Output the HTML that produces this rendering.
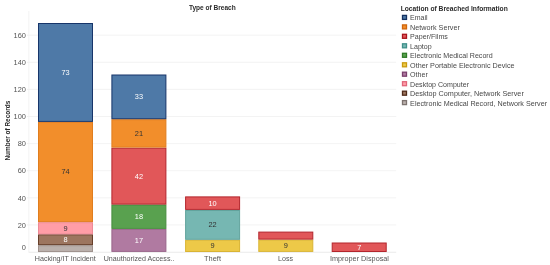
<!DOCTYPE html>
<html><head><meta charset="utf-8"><title>Type of Breach</title>
<style>
html,body{margin:0;padding:0;background:#fff;}
svg{display:block;font-family:"Liberation Sans",sans-serif;}
text{font-size:7.4px;}
.ax{fill:#555;}
.b{font-weight:bold;fill:#2a2a2a;}
</style></head><body>
<svg width="550" height="265" viewBox="0 0 550 265">
<rect width="550" height="265" fill="#fff"/>

<line x1="28.8" x2="396.2" y1="224.9" y2="224.9" stroke="#f0f0f0" stroke-width="0.8"/>
<line x1="27" x2="28.8" y1="224.9" y2="224.9" stroke="#ececec" stroke-width="0.8"/>
<line x1="28.8" x2="396.2" y1="197.8" y2="197.8" stroke="#f0f0f0" stroke-width="0.8"/>
<line x1="27" x2="28.8" y1="197.8" y2="197.8" stroke="#ececec" stroke-width="0.8"/>
<line x1="28.8" x2="396.2" y1="170.7" y2="170.7" stroke="#f0f0f0" stroke-width="0.8"/>
<line x1="27" x2="28.8" y1="170.7" y2="170.7" stroke="#ececec" stroke-width="0.8"/>
<line x1="28.8" x2="396.2" y1="143.6" y2="143.6" stroke="#f0f0f0" stroke-width="0.8"/>
<line x1="27" x2="28.8" y1="143.6" y2="143.6" stroke="#ececec" stroke-width="0.8"/>
<line x1="28.8" x2="396.2" y1="116.5" y2="116.5" stroke="#f0f0f0" stroke-width="0.8"/>
<line x1="27" x2="28.8" y1="116.5" y2="116.5" stroke="#ececec" stroke-width="0.8"/>
<line x1="28.8" x2="396.2" y1="89.4" y2="89.4" stroke="#f0f0f0" stroke-width="0.8"/>
<line x1="27" x2="28.8" y1="89.4" y2="89.4" stroke="#ececec" stroke-width="0.8"/>
<line x1="28.8" x2="396.2" y1="62.3" y2="62.3" stroke="#f0f0f0" stroke-width="0.8"/>
<line x1="27" x2="28.8" y1="62.3" y2="62.3" stroke="#ececec" stroke-width="0.8"/>
<line x1="28.8" x2="396.2" y1="35.2" y2="35.2" stroke="#f0f0f0" stroke-width="0.8"/>
<line x1="27" x2="28.8" y1="35.2" y2="35.2" stroke="#ececec" stroke-width="0.8"/>
<line x1="28.8" x2="28.8" y1="11" y2="252.45" stroke="#f0f0f0" stroke-width="0.8"/>
<line x1="28.8" x2="396.2" y1="252.25" y2="252.25" stroke="#e4e4e4" stroke-width="0.8"/>
<text class="ax" x="25.9" y="249.8" text-anchor="end">0</text>
<text class="ax" x="25.9" y="227.6" text-anchor="end">20</text>
<text class="ax" x="25.9" y="200.5" text-anchor="end">40</text>
<text class="ax" x="25.9" y="173.4" text-anchor="end">60</text>
<text class="ax" x="25.9" y="146.3" text-anchor="end">80</text>
<text class="ax" x="25.9" y="119.2" text-anchor="end">100</text>
<text class="ax" x="25.9" y="92.1" text-anchor="end">120</text>
<text class="ax" x="25.9" y="65.0" text-anchor="end">140</text>
<text class="ax" x="25.9" y="37.9" text-anchor="end">160</text>
<rect x="38.5" y="245.7" width="54" height="5.8" fill="#bab0ac" stroke="#a0938e" stroke-width="1"/>
<rect x="38.5" y="234.8" width="54" height="9.8" fill="#9c755f" stroke="#673f2a" stroke-width="1"/>
<text x="65.5" y="242.2" text-anchor="middle" fill="#fff">8</text>
<rect x="38.5" y="222.7" width="54" height="11.2" fill="#ff9da7" stroke="#ee8a96" stroke-width="1"/>
<text x="65.5" y="230.6" text-anchor="middle" fill="#333">9</text>
<rect x="38.5" y="122.4" width="54" height="99.2" fill="#f28e2b" stroke="#e07d1e" stroke-width="1"/>
<text x="65.5" y="174.4" text-anchor="middle" fill="#333">74</text>
<rect x="38.5" y="23.5" width="54" height="97.9" fill="#4e79a7" stroke="#17356a" stroke-width="1"/>
<text x="65.5" y="74.9" text-anchor="middle" fill="#fff">73</text>
<text class="ax" x="34.8" y="260.8" textLength="61.0" lengthAdjust="spacingAndGlyphs">Hacking/IT Incident</text>
<rect x="111.9" y="229.4" width="54" height="22.0" fill="#b07aa1" stroke="#98648a" stroke-width="1"/>
<text x="138.9" y="242.8" text-anchor="middle" fill="#fff">17</text>
<rect x="111.9" y="205.0" width="54" height="23.4" fill="#59a14f" stroke="#478d3e" stroke-width="1"/>
<text x="138.9" y="219.1" text-anchor="middle" fill="#fff">18</text>
<rect x="111.9" y="148.2" width="54" height="55.9" fill="#e15759" stroke="#b3262d" stroke-width="1"/>
<text x="138.9" y="178.5" text-anchor="middle" fill="#fff">42</text>
<rect x="111.9" y="119.7" width="54" height="27.4" fill="#f28e2b" stroke="#e07d1e" stroke-width="1"/>
<text x="138.9" y="135.8" text-anchor="middle" fill="#333">21</text>
<rect x="111.9" y="75.0" width="54" height="43.7" fill="#4e79a7" stroke="#17356a" stroke-width="1"/>
<text x="138.9" y="99.3" text-anchor="middle" fill="#fff">33</text>
<text class="ax" x="103.7" y="260.8" textLength="70.7" lengthAdjust="spacingAndGlyphs">Unauthorized Access..</text>
<rect x="185.6" y="240.3" width="54" height="11.2" fill="#edc948" stroke="#d9b434" stroke-width="1"/>
<text x="212.6" y="248.3" text-anchor="middle" fill="#333">9</text>
<rect x="185.6" y="210.5" width="54" height="28.8" fill="#76b7b2" stroke="#62a39d" stroke-width="1"/>
<text x="212.6" y="227.3" text-anchor="middle" fill="#333">22</text>
<rect x="185.6" y="196.9" width="54" height="12.5" fill="#e15759" stroke="#b3262d" stroke-width="1"/>
<text x="212.6" y="205.6" text-anchor="middle" fill="#fff">10</text>
<text class="ax" x="204.1" y="260.8" textLength="16.9" lengthAdjust="spacingAndGlyphs">Theft</text>
<rect x="258.8" y="240.1" width="54" height="11.3" fill="#edc948" stroke="#d9b434" stroke-width="1"/>
<text x="285.8" y="248.2" text-anchor="middle" fill="#333">9</text>
<rect x="258.8" y="232.1" width="54" height="7.0" fill="#e15759" stroke="#b3262d" stroke-width="1"/>
<text class="ax" x="278.0" y="260.8" textLength="15.0" lengthAdjust="spacingAndGlyphs">Loss</text>
<rect x="332.2" y="243.0" width="54" height="8.5" fill="#e15759" stroke="#b3262d" stroke-width="1"/>
<text x="359.2" y="249.6" text-anchor="middle" fill="#fff">7</text>
<text class="ax" x="330.0" y="260.8" textLength="59.0" lengthAdjust="spacingAndGlyphs">Improper Disposal</text>
<text class="b" x="188.9" y="9.6" textLength="46.8" lengthAdjust="spacingAndGlyphs">Type of Breach</text>
<text class="b" transform="translate(9.6,160.6) rotate(-90)" textLength="59.9" lengthAdjust="spacingAndGlyphs">Number of Records</text>
<text class="b" x="400.7" y="11.4" textLength="107.1" lengthAdjust="spacingAndGlyphs">Location of Breached Information</text>
<rect x="402.5" y="15.4" width="4" height="4" fill="#4e79a7" stroke="#14305f" stroke-width="1.3"/>
<text x="410.1" y="20.4" fill="#484848" textLength="17.5" lengthAdjust="spacingAndGlyphs">Email</text>
<rect x="402.5" y="24.9" width="4" height="4" fill="#f28e2b" stroke="#cf650c" stroke-width="1.3"/>
<text x="410.1" y="29.9" fill="#484848" textLength="49.8" lengthAdjust="spacingAndGlyphs">Network Server</text>
<rect x="402.5" y="34.3" width="4" height="4" fill="#e15759" stroke="#a8141c" stroke-width="1.3"/>
<text x="410.1" y="39.4" fill="#484848" textLength="37.8" lengthAdjust="spacingAndGlyphs">Paper/Films</text>
<rect x="402.5" y="43.8" width="4" height="4" fill="#76b7b2" stroke="#3f8f89" stroke-width="1.3"/>
<text x="410.1" y="48.9" fill="#484848" textLength="21.6" lengthAdjust="spacingAndGlyphs">Laptop</text>
<rect x="402.5" y="53.3" width="4" height="4" fill="#59a14f" stroke="#2f7a27" stroke-width="1.3"/>
<text x="410.1" y="58.3" fill="#484848" textLength="82.6" lengthAdjust="spacingAndGlyphs">Electronic Medical Record</text>
<rect x="402.5" y="62.8" width="4" height="4" fill="#edc948" stroke="#c99a10" stroke-width="1.3"/>
<text x="410.1" y="67.8" fill="#484848" textLength="104.4" lengthAdjust="spacingAndGlyphs">Other Portable Electronic Device</text>
<rect x="402.5" y="72.2" width="4" height="4" fill="#b07aa1" stroke="#7a3f6c" stroke-width="1.3"/>
<text x="410.1" y="77.3" fill="#484848" textLength="17.7" lengthAdjust="spacingAndGlyphs">Other</text>
<rect x="402.5" y="81.7" width="4" height="4" fill="#ff9da7" stroke="#e0667a" stroke-width="1.3"/>
<text x="410.1" y="86.7" fill="#484848" textLength="58.9" lengthAdjust="spacingAndGlyphs">Desktop Computer</text>
<rect x="402.5" y="91.2" width="4" height="4" fill="#9c755f" stroke="#4f2a18" stroke-width="1.3"/>
<text x="410.1" y="96.2" fill="#484848" textLength="113.7" lengthAdjust="spacingAndGlyphs">Desktop Computer, Network Server</text>
<rect x="402.5" y="100.6" width="4" height="4" fill="#bab0ac" stroke="#7d7370" stroke-width="1.3"/>
<text x="410.1" y="105.7" fill="#484848" textLength="137.0" lengthAdjust="spacingAndGlyphs">Electronic Medical Record, Network Server</text>
</svg></body></html>
